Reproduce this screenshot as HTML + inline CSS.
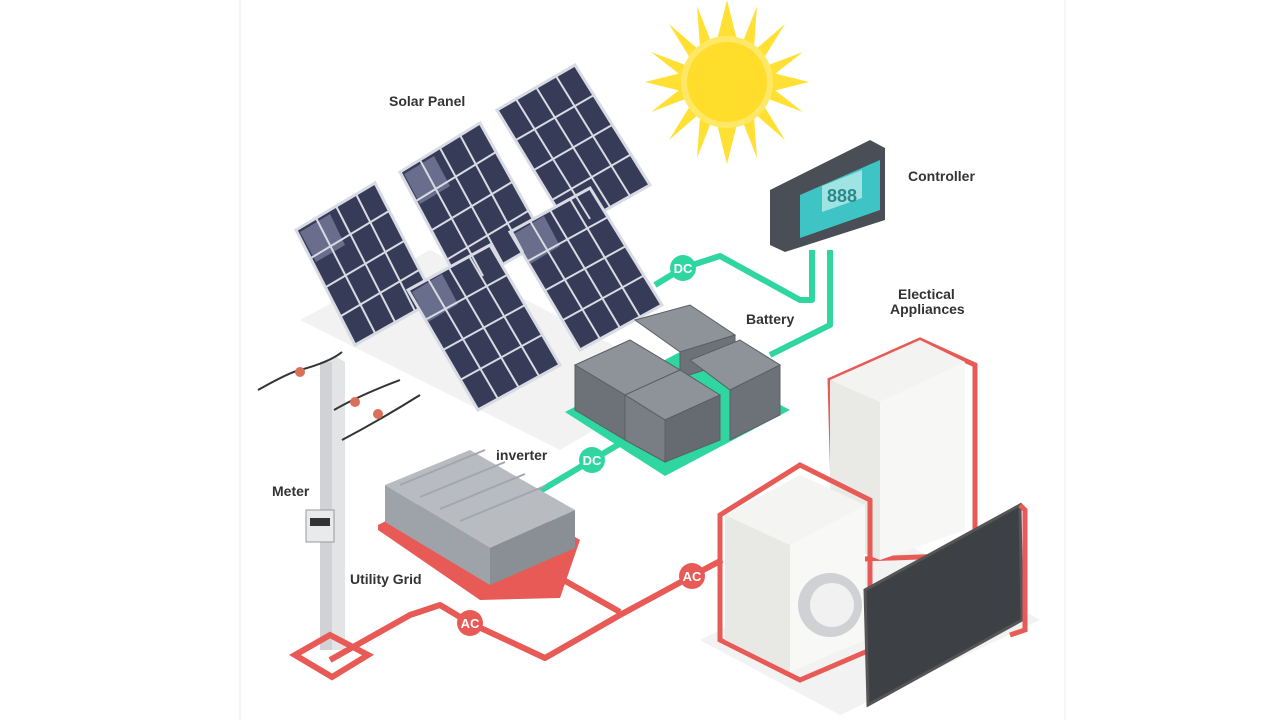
<!DOCTYPE html>
<html><head><meta charset="utf-8"><style>
body{margin:0;width:1280px;height:720px;background:#fff;overflow:hidden}
svg{display:block}
text{font-family:"Liberation Sans",sans-serif;font-weight:bold;font-size:14px;fill:#333}
.c{font-size:13px;fill:#fff;text-anchor:middle}
</style></head><body>
<svg width="1280" height="720" viewBox="0 0 1280 720">
<line x1="240" y1="0" x2="240" y2="720" stroke="#eee"/>
<line x1="1065" y1="0" x2="1065" y2="720" stroke="#eee"/>
<polygon points="300,320 430,250 680,380 560,450" fill="#f2f2f2"/>
<polygon points="700,640 900,540 1040,620 840,715" fill="#f2f2f2"/>
<g fill="#ffe033">
<polygon points="727,0 737,40 717,40"/><polygon points="727,164 737,124 717,124"/>
<polygon points="645,82 685,72 685,92"/><polygon points="809,82 769,72 769,92"/>
<polygon points="669,24 699,50 690,58"/><polygon points="785,140 755,114 764,106"/>
<polygon points="785,24 764,58 755,50"/><polygon points="669,140 690,106 699,114"/>
<polygon points="697,6 712,44 700,47"/><polygon points="757,158 742,120 754,117"/>
<polygon points="757,6 754,47 742,44"/><polygon points="697,158 700,117 712,120"/>
<polygon points="651,52 688,66 683,77"/><polygon points="803,112 766,98 771,87"/>
<polygon points="803,52 771,77 766,66"/><polygon points="651,112 683,87 688,98"/>
</g>
<circle cx="727" cy="82" r="46" fill="#ffe866"/>
<circle cx="727" cy="82" r="40" fill="#ffdd2a"/>
<g stroke="#d8dbe3" stroke-width="3" fill="#363c58">
<polygon points="296,230 375,183 435,300 355,345"/>
<polygon points="400,172 480,123 545,240 462,288"/>
<polygon points="497,110 575,65 650,185 570,230"/>
<polygon points="510,232 590,188 662,305 580,350"/>
<polygon points="408,290 490,245 560,365 478,410"/>
</g>
<g fill="#8a90ad" opacity="0.6">
<polygon points="300,232 330,214 345,245 316,262"/>
<polygon points="404,174 434,156 450,186 420,204"/>
<polygon points="514,234 544,216 560,246 530,264"/>
<polygon points="412,292 442,274 458,304 428,322"/>
</g>
<g stroke="#d8dbe3" stroke-width="2">
<line x1="316" y1="218" x2="375" y2="333"/><line x1="336" y1="206" x2="395" y2="322"/><line x1="356" y1="194" x2="415" y2="311"/>
<line x1="311" y1="258" x2="389" y2="211"/><line x1="326" y1="287" x2="404" y2="241"/><line x1="341" y1="316" x2="419" y2="270"/>
<line x1="420" y1="160" x2="483" y2="276"/><line x1="440" y1="148" x2="503" y2="264"/><line x1="460" y1="135" x2="523" y2="252"/>
<line x1="416" y1="201" x2="496" y2="152"/><line x1="432" y1="230" x2="512" y2="182"/><line x1="448" y1="259" x2="528" y2="211"/>
<line x1="516" y1="99" x2="590" y2="219"/><line x1="536" y1="87" x2="610" y2="207"/><line x1="556" y1="76" x2="630" y2="196"/>
<line x1="516" y1="140" x2="594" y2="95"/><line x1="534" y1="170" x2="612" y2="125"/><line x1="552" y1="200" x2="630" y2="155"/>
<line x1="530" y1="221" x2="600" y2="339"/><line x1="550" y1="210" x2="620" y2="328"/><line x1="570" y1="199" x2="640" y2="317"/>
<line x1="528" y1="261" x2="608" y2="217"/><line x1="546" y1="290" x2="626" y2="246"/><line x1="563" y1="320" x2="643" y2="276"/>
<line x1="428" y1="279" x2="498" y2="399"/><line x1="449" y1="268" x2="519" y2="388"/><line x1="469" y1="256" x2="539" y2="376"/>
<line x1="425" y1="320" x2="507" y2="275"/><line x1="443" y1="350" x2="525" y2="305"/><line x1="460" y1="380" x2="542" y2="335"/>
</g>
<g fill="none" stroke="#2fd6a0" stroke-width="6" stroke-linejoin="round">
<path d="M655,285 L683,268 L720,256 L800,300 L812,300 L812,250"/>
<path d="M770,355 L830,325 L830,250"/>
<path d="M530,497 L592,460 L640,432"/>
</g>
<polygon points="565,412 680,352 790,410 665,476" fill="#2fd6a0"/>
<g stroke="#5a5f66" stroke-width="1">
<polygon points="635,320 690,305 735,335 680,352" fill="#8d9399"/>
<polygon points="680,352 735,335 735,360 680,378" fill="#6d7278"/>
<polygon points="575,365 630,340 680,370 625,395" fill="#8d9399"/>
<polygon points="575,365 625,395 625,440 575,410" fill="#6d7278"/>
<polygon points="690,360 740,340 780,365 730,390" fill="#8d9399"/>
<polygon points="730,390 780,365 780,415 730,440" fill="#6d7278"/>
<polygon points="625,395 680,370 720,395 665,420" fill="#8d9399"/>
<polygon points="625,395 665,420 665,462 625,440" fill="#797e84"/>
<polygon points="665,420 720,395 720,440 665,462" fill="#666b71"/>
</g>
<polygon points="770,190 870,140 885,148 885,220 785,252 770,245" fill="#4a4f57"/>
<polygon points="800,195 880,160 880,210 800,238" fill="#3ec4c4"/>
<polygon points="822,186 862,170 862,198 822,212" fill="#9fe3e3"/>
<text x="827" y="202" style="font-size:18px;fill:#2a8a8a">888</text>
<polygon points="320,362 335,356 345,362 345,650 320,650" fill="#e3e4e6"/>
<rect x="320" y="362" width="12" height="288" fill="#d0d2d5"/>
<g stroke="#333" stroke-width="2" fill="none">
<path d="M258,390 Q290,372 300,370"/><path d="M300,370 Q330,362 342,352"/>
<path d="M334,410 Q360,395 400,380"/><path d="M342,440 Q380,420 420,395"/>
</g>
<circle cx="300" cy="372" r="5" fill="#d9705a"/><circle cx="355" cy="402" r="5" fill="#d9705a"/><circle cx="378" cy="414" r="5" fill="#d9705a"/>
<rect x="306" y="510" width="28" height="32" fill="#e9eaec" stroke="#999"/>
<rect x="310" y="518" width="20" height="8" fill="#333"/>
<g fill="none" stroke="#e85a55" stroke-width="6" stroke-linejoin="round">
<path d="M330,660 L410,615 L440,605 L470,623 L545,658 L620,615 L692,576 L722,560"/>
<path d="M560,578 L620,612"/>
</g>
<polygon points="295,655 330,635 368,655 332,677" fill="none" stroke="#e85a55" stroke-width="6"/>
<polygon points="378,525 475,475 580,540 560,598 480,600 378,530" fill="#e85a55"/>
<polygon points="385,485 470,450 575,510 490,548" fill="#b8bcc1"/>
<g stroke="#a2a7ad" stroke-width="2">
<line x1="400" y1="485" x2="485" y2="450"/><line x1="420" y1="497" x2="505" y2="462"/><line x1="440" y1="509" x2="525" y2="474"/><line x1="460" y1="521" x2="545" y2="486"/>
</g>
<polygon points="385,485 490,548 490,585 385,522" fill="#9ea3a9"/>
<polygon points="490,548 575,510 575,548 490,585" fill="#8a8f95"/>
<polygon points="830,380 920,340 975,365 975,555 835,560" fill="none" stroke="#e85a55" stroke-width="5"/>
<polygon points="830,380 920,340 965,362 880,402" fill="#f3f3f1"/>
<polygon points="830,380 880,402 880,560 830,540" fill="#e9e9e6"/>
<polygon points="880,402 965,362 965,530 880,560" fill="#f7f7f5"/>
<polygon points="720,515 800,465 870,500 870,650 800,680 720,640" fill="none" stroke="#e85a55" stroke-width="5"/>
<polygon points="725,515 800,475 865,505 790,545" fill="#f4f4f2"/>
<polygon points="725,515 790,545 790,672 725,640" fill="#e8e8e5"/>
<polygon points="790,545 865,505 865,640 790,672" fill="#f8f8f6"/>
<circle cx="830" cy="605" r="32" fill="#cfd1d4"/><circle cx="832" cy="605" r="22" fill="#f1f1f1"/>
<polygon points="865,590 1020,505 1022,620 868,705" fill="#3d4146" stroke="#555" stroke-width="3"/>
<path d="M1020,505 L1025,510 L1025,630 L1010,635" fill="none" stroke="#e85a55" stroke-width="5"/>
<circle cx="683" cy="268" r="13" fill="#2fd6a0"/><text class="c" x="683" y="273">DC</text>
<circle cx="592" cy="460" r="13" fill="#2fd6a0"/><text class="c" x="592" y="465">DC</text>
<circle cx="470" cy="623" r="13" fill="#e85a55"/><text class="c" x="470" y="628">AC</text>
<circle cx="692" cy="576" r="13" fill="#e85a55"/><text class="c" x="692" y="581">AC</text>
<text x="389" y="106">Solar Panel</text>
<text x="908" y="181">Controller</text>
<text x="898" y="299">Electical</text>
<text x="890" y="314">Appliances</text>
<text x="746" y="324">Battery</text>
<text x="496" y="460">inverter</text>
<text x="272" y="496">Meter</text>
<text x="350" y="584">Utility Grid</text>
</svg>
</body></html>
